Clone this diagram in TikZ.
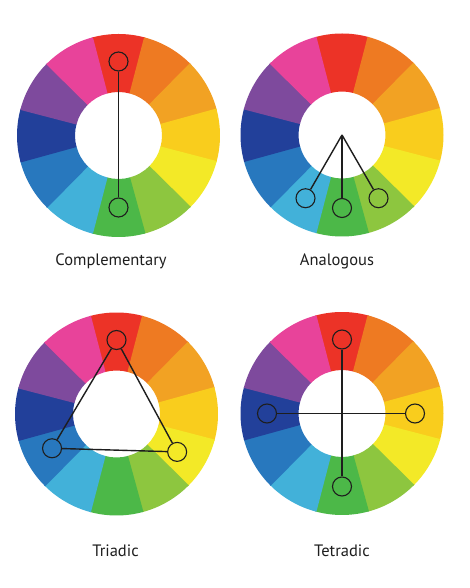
\documentclass[tikz,border=0pt]{standalone}
\usepackage{fontspec}
\setmainfont{PT Sans}
\definecolor{wr}{HTML}{EC3327}
\definecolor{wro}{HTML}{EE7A22}
\definecolor{wo}{HTML}{F2A223}
\definecolor{wyo}{HTML}{F9CD1D}
\definecolor{wy}{HTML}{F3E927}
\definecolor{wyg}{HTML}{8DC63F}
\definecolor{wg}{HTML}{4CB848}
\definecolor{wlb}{HTML}{42B1D9}
\definecolor{wb}{HTML}{2878BE}
\definecolor{wdb}{HTML}{22409A}
\definecolor{wp}{HTML}{7E4A9D}
\definecolor{wm}{HTML}{E8439A}
\definecolor{ink}{HTML}{1E1E1E}
\tikzset{
  ring/.style={circle, draw=ink, line width=1.1pt, minimum size=19pt, inner sep=0pt},
  link/.style={draw=ink, line width=1.4pt},
  caption/.style={anchor=base, font=\fontsize{16.5}{20}\selectfont, text=ink}
}
\newcommand\mywheel{%
  \foreach \c [count=\i from 0] in {wr,wro,wo,wyo,wy,wyg,wg,wlb,wb,wdb,wp,wm}{%
    \pgfmathsetmacro\sa{90-30*\i+15.4}%
    \pgfmathsetmacro\ea{90-30*\i-15.4}%
    \fill[\c] (\sa:101.5pt) arc[start angle=\sa, end angle=\ea, radius=101.5pt]
      -- (\ea:43.5pt) arc[start angle=\ea, end angle=\sa, radius=43.5pt] -- cycle;
  }%
}
\begin{document}
\begin{tikzpicture}[x=1pt,y=1pt]
\fill[white] (0,0) rectangle (469,588);
\useasboundingbox (0,0) rectangle (469,588);

% Complementary
\begin{scope}[shift={(118.5,452.5)}]
  \mywheel
  \node[ring] (c1t) at (90:74) {};
  \node[ring] (c1b) at (-90:72) {};
  \draw[link] (c1t) -- (c1b);
\end{scope}
\node[caption] (cap1) at (111,322) {Complementary};

% Analogous
\begin{scope}[shift={(342,453)}]
  \mywheel
  \coordinate (a2o) at (0,0);
  \node[ring] (a2l) at (-120:73) {};
  \node[ring] (a2m) at (-90:73) {};
  \node[ring] (a2r) at (-60:73) {};
  \draw[link] (a2o) -- (a2l);
  \draw[link] (a2o) -- (a2m);
  \draw[link] (a2o) -- (a2r);
\end{scope}
\node[caption] (cap2) at (337,322.5) {Analogous};

% Triadic
\begin{scope}[shift={(116.5,174)}]
  \mywheel
  \node[ring] (t3t) at (90:74) {};
  \node[ring] (t3l) at (-152:73) {};
  \node[ring] (t3r) at (-32:71.5) {};
  \draw[link] (t3t) -- (t3l);
  \draw[link] (t3t) -- (t3r);
  \draw[link] (t3l) -- (t3r);
\end{scope}
\node[caption] (cap3) at (115.5,31.5) {Triadic};

% Tetradic
\begin{scope}[shift={(342,174.5)}]
  \mywheel
  \node[ring] (q4t) at (90:74) {};
  \node[ring] (q4b) at (-90:73) {};
  \node[ring] (q4l) at (180:75) {};
  \node[ring] (q4r) at (0:73) {};
  \draw[link] (q4t) -- (q4b);
  \draw[link] (q4l) -- (q4r);
\end{scope}
\node[caption] (cap4) at (342,31.5) {Tetradic};
\end{tikzpicture}
\end{document}
